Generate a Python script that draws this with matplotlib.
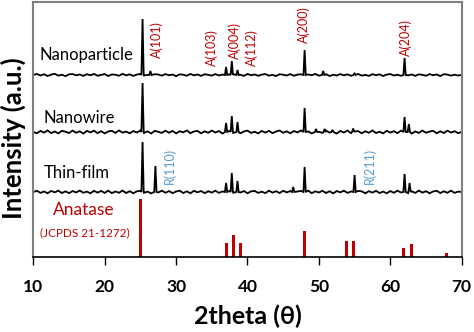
import numpy as np
import matplotlib.pyplot as plt

plt.rcParams['font.family'] = ['Lato', 'DejaVu Sans']

# XRD peaks (2theta, intensity above baseline)
np_peaks = [25.3, 26.4, 37.0, 37.8, 38.6, 48.0, 50.6, 55.0, 62.0]
np_heights = [56, 4, 8, 14, 5, 25, 4, 2, 17]
nw_peaks = [25.3, 37.0, 37.8, 38.6, 48.0, 49.6, 50.8, 51.9, 54.8, 62.0, 62.6]
nw_heights = [49, 9, 16, 10, 24, 3, 3, 2, 3.5, 15, 8]
tf_peaks = [25.3, 27.1, 37.0, 37.8, 38.6, 46.4, 48.0, 55.0, 62.0, 62.7]
tf_heights = [50, 26, 9, 19, 11, 5, 25, 17, 18, 9]

# baseline readings every 0.5 deg from 10 to 70
np_noise = [0, 0.8, -0.4, 0.6, -0.8, 0.3, 0.9, -0.5, 0.2, -0.9,
            0.5, 0.7, -0.3, 0.4, -0.7, 0.6, -0.2, 0.8, -0.6, 0.1,
            0.7, -0.8, 0.4, 0.2, -0.6, 0.9, -0.3, 0.5, -0.7, 0.3,
            0.8, -0.4, 0.1, -0.8, 0.6, 0.4, -0.5, 0.7, -0.2, 0.3,
            -0.9, 0.5, 0.2, -0.6, 0.8, -0.3, 0.4, -0.7, 0.6, 0.1,
            -0.5, 0.7, -0.4, 0.3, -0.8, 0.5, 0.6, -0.3, 0.2, -0.7,
            0.8, -0.2, 0.4, -0.6, 0.3, 0.7, -0.5, 0.1, -0.8, 0.6,
            0.2, -0.4, 0.7, -0.6, 0.3, 0.5, -0.7, 0.4, -0.2, 0.8,
            -0.5, 0.3, 0.6, -0.8, 0.2, -0.4, 0.7, -0.3, 0.5, -0.6,
            0.4, 0.8, -0.5, 0.1, -0.7, 0.6, -0.2, 0.5, -0.8, 0.3,
            0.7, -0.4, 0.2, -0.6, 0.8, -0.3, 0.4, -0.7, 0.5, 0.1,
            -0.6, 0.7, -0.2, 0.4, -0.8, 0.6, 0.3, -0.5, 0.2, -0.4, 0]
nw_noise = [0, -1.0, 0.8, -0.5, 1.2, -0.9, 0.4, -1.1, 0.9, 0.2,
            -0.8, 1.1, -0.6, 0.5, -1.2, 0.8, -0.3, 1.0, -0.9, 0.6,
            -1.1, 0.4, 0.9, -0.7, 1.2, -0.5, 0.3, -1.0, 0.7, -0.4,
            1.1, -0.8, 0.5, -1.2, 0.9, 0.1, -0.7, 1.0, -0.6, 0.8,
            -1.1, 0.6, -0.3, 1.2, -0.9, 0.4, 0.8, -1.0, 0.5, -0.6,
            1.1, -0.4, 0.7, -1.2, 0.3, 0.9, -0.8, 0.6, -1.0, 0.4,
            1.0, -0.7, 0.2, -1.1, 0.8, -0.5, 0.9, -0.9, 0.3, 1.1,
            -0.6, 0.5, -1.0, 0.7, -0.3, 1.2, -0.8, 0.4, -1.1, 0.9,
            0.1, -0.7, 1.0, -0.5, 0.6, -1.2, 0.8, -0.4, 1.1, -0.9,
            0.3, 0.7, -1.0, 0.5, -0.6, 1.2, -0.8, 0.2, -1.1, 0.9,
            -0.5, 0.6, -0.9, 1.0, -0.3, 0.8, -1.2, 0.4, -0.7, 1.1,
            -0.6, 0.3, 0.9, -1.0, 0.5, -0.8, 1.0, -0.4, 0.6, -0.9, 0]
tf_noise = [0, 0.9, -0.7, 0.4, -1.0, 0.8, -0.3, 1.0, -0.8, 0.5,
            -0.9, 0.7, -0.4, 1.1, -0.6, 0.3, -1.0, 0.9, -0.5, 0.8,
            -0.7, 1.0, -0.9, 0.4, -0.6, 1.1, -0.8, 0.6, -1.0, 0.5,
            0.9, -0.7, 0.3, -1.1, 0.8, -0.4, 1.0, -0.6, 0.7, -0.9,
            0.4, 1.0, -0.8, 0.5, -1.0, 0.9, -0.3, 0.7, -0.9, 0.6,
            -0.5, 1.0, -0.7, 0.4, -1.1, 0.8, -0.6, 0.9, -0.4, 0.7,
            -1.0, 0.5, 0.8, -0.7, 0.3, -0.9, 1.0, -0.5, 0.6, -0.8,
            0.9, -0.3, 0.7, -1.0, 0.4, 0.8, -0.6, 1.0, -0.9, 0.5,
            -0.4, 0.9, -0.8, 0.6, -1.1, 0.7, -0.3, 1.0, -0.7, 0.4,
            -0.9, 0.8, 0.5, -1.0, 0.6, -0.5, 0.9, -0.8, 0.3, -1.0,
            0.7, -0.6, 1.0, -0.4, 0.8, -0.9, 0.5, -0.7, 1.1, -0.5,
            0.6, -1.0, 0.4, 0.9, -0.8, 0.5, -0.6, 1.0, -0.7, 0.3, 0]

# anatase reference pattern (JCPDS 21-1272)
ref_pos = [25.03, 37.05, 38.0, 39.0, 48.0, 53.93, 54.9, 61.86, 62.94, 67.92]
ref_int = [58, 14, 22, 14, 26, 15.5, 15.5, 9, 13, 4]

offsets = {'Nanoparticle': 182, 'Nanowire': 125, 'Thin-film': 65}

peak_labels = ['A(101)', 'A(103)', 'A(004)', 'A(112)', 'A(200)', 'A(204)']
peak_label_x = [27.25, 35.0, 38.15, 40.6, 47.9, 62.15]
peak_label_y = [217, 209, 216, 209.5, 232.5, 219.5]
rutile_labels = ['R(110)', 'R(211)']
rutile_label_x = [29.15, 57.1]
rutile_label_y = [91, 91]


def build_trace(noise, peaks, heights, hw=0.16):
    grid = np.linspace(10, 70, len(noise))
    keep = np.ones(len(grid), bool)
    for p in peaks:
        keep &= np.abs(grid - p) > hw
    xs = list(grid[keep])
    ys = list(np.array(noise)[keep] * 1.3)
    for p, h in zip(peaks, heights):
        xs += [p - hw, p, p + hw]
        ys += [0, h, 0]
    order = np.argsort(xs)
    return np.array(xs)[order], np.array(ys)[order]


fig = plt.figure(figsize=(4.74, 3.32), dpi=100)
ax = fig.add_axes([0.0703, 0.226, 0.9037, 0.768])

for name, noise, pk, ht in [('Nanoparticle', np_noise, np_peaks, np_heights),
                            ('Nanowire', nw_noise, nw_peaks, nw_heights),
                            ('Thin-film', tf_noise, tf_peaks, tf_heights)]:
    x, y = build_trace(noise, pk, ht)
    ax.plot(x, y + offsets[name], color='black', lw=1.3, solid_joinstyle='miter')

ax.bar(ref_pos, ref_int, width=0.42, color='#C00000', bottom=0)

red = '#C00000'
for lab, lx, ly in zip(peak_labels, peak_label_x, peak_label_y):
    ax.text(lx, ly, lab, rotation=90, ha='center', va='center', fontsize=9, color=red)
for lab, lx, ly in zip(rutile_labels, rutile_label_x, rutile_label_y):
    ax.text(lx, ly, lab, rotation=90, ha='center', va='center', fontsize=9, color='#5B9BD5')

ax.text(17.45, 202, 'Nanoparticle', ha='center', va='center', fontsize=12)
ax.text(16.4, 139, 'Nanowire', ha='center', va='center', fontsize=12)
ax.text(16.1, 84, 'Thin-film', ha='center', va='center', fontsize=12)
ax.text(17.0, 47, 'Anatase', ha='center', va='center', fontsize=12.5, color=red)
ax.text(17.25, 24, '(JCPDS 21-1272)', ha='center', va='center', fontsize=8.5, color=red)

ax.set_xlim(10, 70)
ax.set_ylim(0, 255)
ax.set_xticks([10, 20, 30, 40, 50, 60, 70])
ax.set_yticks([])
ax.tick_params(axis='x', direction='out', length=6, width=1, pad=10, labelsize=12.5)
for t in ax.get_xticklabels():
    t.set_fontweight('bold')

for side in ['left', 'top', 'right']:
    ax.spines[side].set_color('#808080')
    ax.spines[side].set_linewidth(1.5)
ax.spines['bottom'].set_color('black')
ax.spines['bottom'].set_linewidth(1.2)

ax.set_xlabel('2theta (θ)', fontsize=18, fontweight='bold', labelpad=7)
ax.set_ylabel('Intensity (a.u.)', fontsize=18.5, fontweight='bold', va='center')
ax.yaxis.set_label_coords(-0.047, 0.465)

fig.savefig('out.png', dpi=100)
